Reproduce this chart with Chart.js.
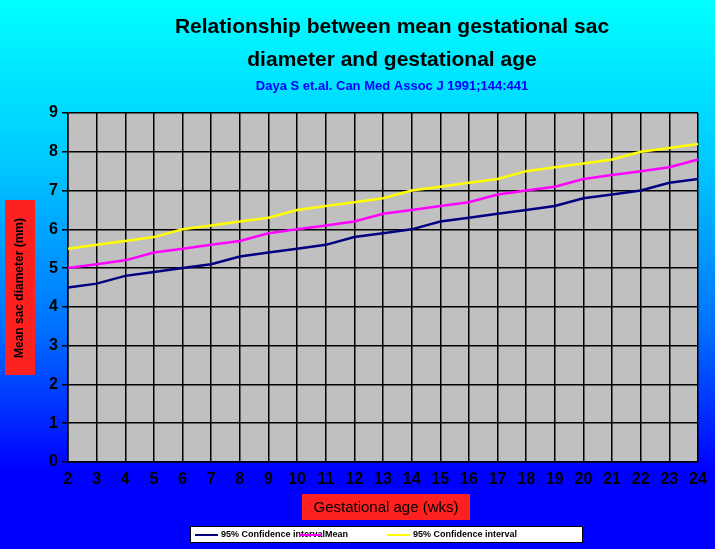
<!DOCTYPE html>
<html><head><meta charset="utf-8">
<script src="https://cdn.jsdelivr.net/npm/chart.js@4"></script>
<style>html,body{margin:0;padding:0;}canvas{display:block;}</style>
</head><body>
<div style="width:715px;height:549px"><canvas id="c"></canvas></div>
<script>
const weeks = ['2','3','4','5','6','7','8','9','10','11','12','13','14','15','16','17','18','19','20','21','22','23','24'];
const lower95 = [4.5,4.6,4.8,4.9,5.0,5.1,5.3,5.4,5.5,5.6,5.8,5.9,6.0,6.2,6.3,6.4,6.5,6.6,6.8,6.9,7.0,7.2,7.3];
const meanSac = [5.0,5.1,5.2,5.4,5.5,5.6,5.7,5.9,6.0,6.1,6.2,6.4,6.5,6.6,6.7,6.9,7.0,7.1,7.3,7.4,7.5,7.6,7.8];
const upper95 = [5.5,5.6,5.7,5.8,6.0,6.1,6.2,6.3,6.5,6.6,6.7,6.8,7.0,7.1,7.2,7.3,7.5,7.6,7.7,7.8,8.0,8.1,8.2];
const seriesNames = ['95% Confidence interval','Mean','95% Confidence interval'];
const seriesColors = ['#000080','#ff00ff','#ffff00'];

const deco = {
  id:'deco',
  beforeDraw(chart){
    const ctx=chart.ctx, a=chart.chartArea, W=chart.width, H=chart.height;
    ctx.save();
    const g=ctx.createLinearGradient(0,0,0,470);
    g.addColorStop(0,'#00ffff'); g.addColorStop(0.35,'#00c8ff'); g.addColorStop(0.7,'#0070ff'); g.addColorStop(1,'#0000ff');
    ctx.fillStyle=g; ctx.fillRect(0,0,W,H);
    ctx.fillStyle='#0000ff'; ctx.fillRect(0,470,W,H-470);
    ctx.fillStyle='#c0c0c0'; ctx.fillRect(a.left,a.top,a.right-a.left,a.bottom-a.top);
    ctx.restore();
  },
  afterDraw(chart){
    const ctx=chart.ctx;
    ctx.save();
    ctx.textAlign='center'; ctx.textBaseline='middle';
    ctx.fillStyle='#000'; ctx.font='bold 21px Arial, "Liberation Sans"';
    ctx.fillText('Relationship between mean gestational sac',392,27);
    ctx.fillText('diameter and gestational age',392,60);
    ctx.fillStyle='#0000ff'; ctx.font='bold 13px Arial, "Liberation Sans"';
    ctx.fillText('Daya S et.al. Can Med Assoc J 1991;144:441',392,86);
    // x title
    ctx.fillStyle='#ff2020'; ctx.fillRect(302,494,168,26);
    ctx.fillStyle='#000'; ctx.font='15px Arial, "Liberation Sans"';
    ctx.fillText('Gestational age (wks)',386,508);
    // y title
    ctx.fillStyle='#ff2020'; ctx.fillRect(5,200,30,175);
    ctx.translate(20,288); ctx.rotate(-Math.PI/2);
    ctx.fillStyle='#000'; ctx.font='bold 12px Arial, "Liberation Sans"';
    ctx.fillText('Mean sac diameter (mm)',0,0);
    ctx.setTransform(1,0,0,1,0,0);
    // legend
    ctx.fillStyle='#fff'; ctx.fillRect(190,526,393,17);
    ctx.strokeStyle='#000'; ctx.lineWidth=1; ctx.strokeRect(190.5,526.5,392,16);
    ctx.font='bold 9px Arial, "Liberation Sans"'; ctx.textAlign='left';
    const xs=[193,297,385];
    seriesNames.forEach((n,i)=>{
      ctx.strokeStyle=seriesColors[i]; ctx.lineWidth=2;
      ctx.beginPath(); ctx.moveTo(xs[i]+2,535); ctx.lineTo(xs[i]+25,535); ctx.stroke();
      ctx.fillStyle='#000'; ctx.fillText(n,xs[i]+28,535);
    });
    ctx.restore();
  }
};

new Chart(document.getElementById('c'),{
  type:'line',
  data:{labels:weeks,datasets:[lower95,meanSac,upper95].map((d,i)=>({
    label:seriesNames[i],data:d,borderColor:seriesColors[i],borderWidth:2.5,pointRadius:0,tension:0,fill:false
  }))},
  options:{
    responsive:true,maintainAspectRatio:false,animation:false,devicePixelRatio:1,
    layout:{padding:{left:8,right:17,top:113,bottom:57}},
    plugins:{legend:{display:false},title:{display:false},tooltip:{enabled:false}},
    scales:{
      x:{offset:false,afterFit(s){s.height=30;},
        grid:{color:'#000',lineWidth:1.5,drawTicks:false},border:{color:'#000',width:1.5},
        ticks:{color:'#000',font:{size:16,weight:'bold',family:'Arial'},padding:8,maxRotation:0,autoSkip:false}},
      y:{min:0,max:9,afterFit(s){s.width=60;},
        grid:{color:'#000',lineWidth:1.5,tickLength:6},border:{color:'#000',width:1.5},
        ticks:{stepSize:1,color:'#000',font:{size:16,weight:'bold',family:'Arial'},padding:4}}
    }
  },
  plugins:[deco]
});
</script>
</body></html>
